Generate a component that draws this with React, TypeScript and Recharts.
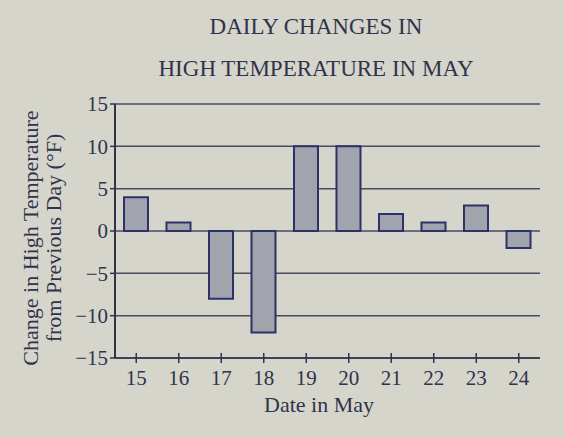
import { Bar, BarChart, CartesianGrid, XAxis, YAxis } from "recharts";

const dates = ["15", "16", "17", "18", "19", "20", "21", "22", "23", "24"];
const changes = [4, 1, -8, -12, 10, 10, 2, 1, 3, -2];
const yTicks = [-15, -10, -5, 0, 5, 10, 15];

const data = dates.map((d, i) => ({ date: d, change: changes[i] }));

const ink = "#30334a";
const serif = "'Liberation Serif', 'DejaVu Serif', serif";

function DateTick({ x, y, payload }: any) {
  return (
    <g>
      <line x1={x} x2={x} y1={y - 5} y2={y + 5} stroke={ink} strokeWidth={1.5} />
      <text x={x} y={y + 27} textAnchor="middle" fill={ink} fontSize={21} fontFamily={serif}>
        {payload.value}
      </text>
    </g>
  );
}

export default function App() {
  return (
    <div
      style={{
        position: "absolute",
        left: 0,
        top: 0,
        width: 564,
        height: 438,
        background: "#d5d5cc",
        fontFamily: serif,
        color: ink,
      }}
    >
      <div style={{ position: "absolute", left: 0, width: 632, top: 6, textAlign: "center", fontSize: 23, lineHeight: "42px" }}>
        DAILY CHANGES IN
        <br />
        HIGH TEMPERATURE IN MAY
      </div>
      <div
        style={{
          position: "absolute",
          left: 42,
          top: 238,
          width: 330,
          transform: "translate(-50%, -50%) rotate(-90deg)",
          textAlign: "center",
          fontSize: 22,
          lineHeight: "23px",
        }}
      >
        Change in High Temperature
        <br />
        from Previous Day (°F)
      </div>
      <div style={{ position: "absolute", left: 0, width: 638, top: 392, textAlign: "center", fontSize: 22 }}>
        Date in May
      </div>
      <BarChart
        width={564}
        height={438}
        data={data}
        margin={{ top: 104, right: 24, bottom: 50, left: 0 }}
        barSize={24}
        style={{ position: "absolute", left: 0, top: 0 }}
      >
        <CartesianGrid vertical={false} stroke={ink} strokeWidth={1.5} strokeOpacity={0.85} />
        <XAxis
          dataKey="date"
          axisLine={{ stroke: ink, strokeWidth: 1.5 }}
          tickLine={false}
          tickSize={0}
          tickMargin={0}
          tick={<DateTick />}
          interval={0}
        />
        <YAxis
          width={115}
          domain={[-15, 15]}
          ticks={yTicks}
          axisLine={{ stroke: ink, strokeWidth: 2 }}
          tickLine={{ stroke: ink, strokeWidth: 1.5 }}
          tickSize={5}
          tickFormatter={(v: number) => String(v).replace("-", "\u2212")}
          tick={{ fill: ink, fontSize: 21, fontFamily: serif }}
        />
        <Bar dataKey="change" fill="#a2a4ad" stroke="#2c3168" strokeWidth={2} isAnimationActive={false} />
      </BarChart>
    </div>
  );
}
